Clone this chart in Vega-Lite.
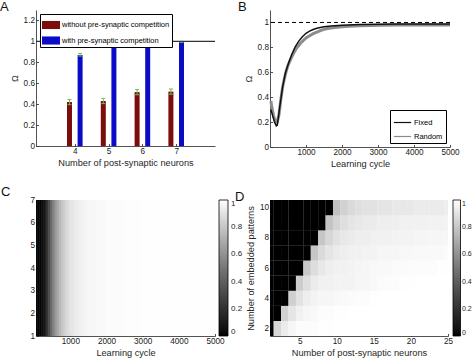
{
  "$schema": "https://vega.github.io/schema/vega-lite/v6.json",
  "padding": {"left": 0, "top": 1, "right": 0, "bottom": 0},
  "background": "white",
  "config": {
    "font": "Liberation Sans",
    "view": {"stroke": null},
    "axis": {"grid": false, "domainColor": "#262626", "tickColor": "#262626", "labelColor": "#1a1a1a", "titleColor": "#262626", "labelFontSize": 8.2, "titleFontSize": 9.2, "titleFontWeight": "normal", "tickSize": -2.5, "labelPadding": 4, "domainWidth": 0.8, "tickWidth": 0.8, "titlePadding": 4, "labelOverlap": false, "labelFlush": false, "labelBound": false, "zindex": 2},
    "title": {"fontSize": 13, "fontWeight": "normal", "anchor": "start", "frame": "group", "color": "#111", "offset": 0, "dy": 8}
  },
  "columns": 2,
  "bounds": "flush",
  "spacing": {"row": 53, "column": 55},
  "datasets": {
    "bars": [
      {"n": 4, "s": "without pre-synaptic competition", "v": 0.42, "lo": 0.395, "hi": 0.445},
      {"n": 5, "s": "without pre-synaptic competition", "v": 0.43, "lo": 0.405, "hi": 0.455},
      {"n": 6, "s": "without pre-synaptic competition", "v": 0.515, "lo": 0.49, "hi": 0.54},
      {"n": 7, "s": "without pre-synaptic competition", "v": 0.52, "lo": 0.495, "hi": 0.545},
      {"n": 4, "s": "with pre-synaptic competition", "v": 0.87, "lo": 0.86, "hi": 0.885},
      {"n": 5, "s": "with pre-synaptic competition", "v": 0.955, "lo": 0.945, "hi": 0.965},
      {"n": 6, "s": "with pre-synaptic competition", "v": 0.972, "lo": 0.963, "hi": 0.981},
      {"n": 7, "s": "with pre-synaptic competition", "v": 0.995, "lo": 0.99, "hi": 1.0}
    ],
    "curves": [
      {"s": "Fixed", "c": 25, "v": 0.3},
      {"s": "Fixed", "c": 75, "v": 0.25},
      {"s": "Fixed", "c": 125, "v": 0.2},
      {"s": "Fixed", "c": 175, "v": 0.17},
      {"s": "Fixed", "c": 200, "v": 0.175},
      {"s": "Fixed", "c": 225, "v": 0.22},
      {"s": "Fixed", "c": 275, "v": 0.33},
      {"s": "Fixed", "c": 350, "v": 0.48},
      {"s": "Fixed", "c": 425, "v": 0.59},
      {"s": "Fixed", "c": 500, "v": 0.66},
      {"s": "Fixed", "c": 600, "v": 0.74},
      {"s": "Fixed", "c": 700, "v": 0.805},
      {"s": "Fixed", "c": 800, "v": 0.85},
      {"s": "Fixed", "c": 900, "v": 0.885},
      {"s": "Fixed", "c": 1000, "v": 0.913},
      {"s": "Fixed", "c": 1100, "v": 0.93},
      {"s": "Fixed", "c": 1200, "v": 0.943},
      {"s": "Fixed", "c": 1300, "v": 0.953},
      {"s": "Fixed", "c": 1500, "v": 0.965},
      {"s": "Fixed", "c": 1700, "v": 0.972},
      {"s": "Fixed", "c": 2000, "v": 0.978},
      {"s": "Fixed", "c": 2500, "v": 0.983},
      {"s": "Fixed", "c": 3000, "v": 0.986},
      {"s": "Fixed", "c": 3500, "v": 0.987},
      {"s": "Fixed", "c": 4000, "v": 0.988},
      {"s": "Fixed", "c": 5000, "v": 0.988},
      {"s": "Random", "c": 25, "v": 0.37},
      {"s": "Random", "c": 50, "v": 0.32},
      {"s": "Random", "c": 100, "v": 0.25},
      {"s": "Random", "c": 150, "v": 0.205},
      {"s": "Random", "c": 200, "v": 0.2},
      {"s": "Random", "c": 250, "v": 0.26},
      {"s": "Random", "c": 300, "v": 0.38},
      {"s": "Random", "c": 350, "v": 0.48},
      {"s": "Random", "c": 400, "v": 0.55},
      {"s": "Random", "c": 450, "v": 0.61},
      {"s": "Random", "c": 500, "v": 0.655},
      {"s": "Random", "c": 550, "v": 0.69},
      {"s": "Random", "c": 600, "v": 0.72},
      {"s": "Random", "c": 650, "v": 0.75},
      {"s": "Random", "c": 700, "v": 0.775},
      {"s": "Random", "c": 750, "v": 0.8},
      {"s": "Random", "c": 800, "v": 0.815},
      {"s": "Random", "c": 850, "v": 0.835},
      {"s": "Random", "c": 900, "v": 0.848},
      {"s": "Random", "c": 1000, "v": 0.875},
      {"s": "Random", "c": 1100, "v": 0.893},
      {"s": "Random", "c": 1200, "v": 0.91},
      {"s": "Random", "c": 1300, "v": 0.923},
      {"s": "Random", "c": 1400, "v": 0.935},
      {"s": "Random", "c": 1500, "v": 0.944},
      {"s": "Random", "c": 1600, "v": 0.952},
      {"s": "Random", "c": 1800, "v": 0.96},
      {"s": "Random", "c": 2000, "v": 0.966},
      {"s": "Random", "c": 2200, "v": 0.97},
      {"s": "Random", "c": 2500, "v": 0.974},
      {"s": "Random", "c": 2800, "v": 0.976},
      {"s": "Random", "c": 3100, "v": 0.977},
      {"s": "Random", "c": 3500, "v": 0.979},
      {"s": "Random", "c": 4000, "v": 0.98},
      {"s": "Random", "c": 5000, "v": 0.98}
    ],
    "heatC": [
      {"c0": 50, "c1": 100, "v": 0.02},
      {"c0": 100, "c1": 150, "v": 0.02},
      {"c0": 150, "c1": 200, "v": 0.02},
      {"c0": 200, "c1": 250, "v": 0.03},
      {"c0": 250, "c1": 300, "v": 0.05},
      {"c0": 300, "c1": 350, "v": 0.12},
      {"c0": 350, "c1": 400, "v": 0.22},
      {"c0": 400, "c1": 450, "v": 0.33},
      {"c0": 450, "c1": 500, "v": 0.43},
      {"c0": 500, "c1": 550, "v": 0.52},
      {"c0": 550, "c1": 600, "v": 0.59},
      {"c0": 600, "c1": 650, "v": 0.65},
      {"c0": 650, "c1": 700, "v": 0.7},
      {"c0": 700, "c1": 750, "v": 0.75},
      {"c0": 750, "c1": 800, "v": 0.79},
      {"c0": 800, "c1": 850, "v": 0.82},
      {"c0": 850, "c1": 900, "v": 0.85},
      {"c0": 900, "c1": 950, "v": 0.87},
      {"c0": 950, "c1": 1000, "v": 0.89},
      {"c0": 1000, "c1": 1100, "v": 0.91},
      {"c0": 1100, "c1": 1200, "v": 0.93},
      {"c0": 1200, "c1": 1300, "v": 0.945},
      {"c0": 1300, "c1": 1400, "v": 0.955},
      {"c0": 1400, "c1": 1500, "v": 0.965},
      {"c0": 1500, "c1": 1700, "v": 0.972},
      {"c0": 1700, "c1": 2000, "v": 0.98},
      {"c0": 2000, "c1": 2500, "v": 0.987},
      {"c0": 2500, "c1": 3000, "v": 0.992},
      {"c0": 3000, "c1": 4000, "v": 0.995},
      {"c0": 4000, "c1": 5000, "v": 0.997}
    ],
    "heatD": [
      {"x":1,"y":2,"v":0},{"x":2,"y":2,"v":0.86},{"x":3,"y":2,"v":0.93},{"x":4,"y":2,"v":0.97},{"x":5,"y":2,"v":0.99},{"x":6,"y":2,"v":0.99},{"x":7,"y":2,"v":0.99},{"x":8,"y":2,"v":0.995},{"x":9,"y":2,"v":0.995},{"x":10,"y":2,"v":1},{"x":11,"y":2,"v":1},{"x":12,"y":2,"v":1},{"x":13,"y":2,"v":1},{"x":14,"y":2,"v":1},{"x":15,"y":2,"v":1},{"x":16,"y":2,"v":1},{"x":17,"y":2,"v":1},{"x":18,"y":2,"v":1},{"x":19,"y":2,"v":1},{"x":20,"y":2,"v":1},{"x":21,"y":2,"v":1},{"x":22,"y":2,"v":1},{"x":23,"y":2,"v":1},{"x":24,"y":2,"v":1},{"x":25,"y":2,"v":1},
      {"x":1,"y":3,"v":0},{"x":2,"y":3,"v":0},{"x":3,"y":3,"v":0.84},{"x":4,"y":3,"v":0.91},{"x":5,"y":3,"v":0.95},{"x":6,"y":3,"v":0.97},{"x":7,"y":3,"v":0.98},{"x":8,"y":3,"v":0.99},{"x":9,"y":3,"v":0.99},{"x":10,"y":3,"v":0.995},{"x":11,"y":3,"v":0.995},{"x":12,"y":3,"v":1},{"x":13,"y":3,"v":1},{"x":14,"y":3,"v":1},{"x":15,"y":3,"v":1},{"x":16,"y":3,"v":1},{"x":17,"y":3,"v":1},{"x":18,"y":3,"v":1},{"x":19,"y":3,"v":1},{"x":20,"y":3,"v":1},{"x":21,"y":3,"v":1},{"x":22,"y":3,"v":1},{"x":23,"y":3,"v":1},{"x":24,"y":3,"v":1},{"x":25,"y":3,"v":1},
      {"x":1,"y":4,"v":0},{"x":2,"y":4,"v":0},{"x":3,"y":4,"v":0},{"x":4,"y":4,"v":0.83},{"x":5,"y":4,"v":0.9},{"x":6,"y":4,"v":0.94},{"x":7,"y":4,"v":0.96},{"x":8,"y":4,"v":0.97},{"x":9,"y":4,"v":0.97},{"x":10,"y":4,"v":0.975},{"x":11,"y":4,"v":0.98},{"x":12,"y":4,"v":0.985},{"x":13,"y":4,"v":0.99},{"x":14,"y":4,"v":0.99},{"x":15,"y":4,"v":0.995},{"x":16,"y":4,"v":1},{"x":17,"y":4,"v":1},{"x":18,"y":4,"v":1},{"x":19,"y":4,"v":1},{"x":20,"y":4,"v":1},{"x":21,"y":4,"v":1},{"x":22,"y":4,"v":1},{"x":23,"y":4,"v":1},{"x":24,"y":4,"v":1},{"x":25,"y":4,"v":1},
      {"x":1,"y":5,"v":0},{"x":2,"y":5,"v":0},{"x":3,"y":5,"v":0},{"x":4,"y":5,"v":0},{"x":5,"y":5,"v":0.82},{"x":6,"y":5,"v":0.89},{"x":7,"y":5,"v":0.93},{"x":8,"y":5,"v":0.95},{"x":9,"y":5,"v":0.95},{"x":10,"y":5,"v":0.96},{"x":11,"y":5,"v":0.96},{"x":12,"y":5,"v":0.96},{"x":13,"y":5,"v":0.97},{"x":14,"y":5,"v":0.97},{"x":15,"y":5,"v":0.975},{"x":16,"y":5,"v":0.985},{"x":17,"y":5,"v":0.99},{"x":18,"y":5,"v":0.99},{"x":19,"y":5,"v":0.995},{"x":20,"y":5,"v":0.995},{"x":21,"y":5,"v":1},{"x":22,"y":5,"v":1},{"x":23,"y":5,"v":1},{"x":24,"y":5,"v":1},{"x":25,"y":5,"v":1},
      {"x":1,"y":6,"v":0},{"x":2,"y":6,"v":0},{"x":3,"y":6,"v":0},{"x":4,"y":6,"v":0},{"x":5,"y":6,"v":0},{"x":6,"y":6,"v":0.81},{"x":7,"y":6,"v":0.88},{"x":8,"y":6,"v":0.92},{"x":9,"y":6,"v":0.94},{"x":10,"y":6,"v":0.95},{"x":11,"y":6,"v":0.95},{"x":12,"y":6,"v":0.96},{"x":13,"y":6,"v":0.965},{"x":14,"y":6,"v":0.97},{"x":15,"y":6,"v":0.975},{"x":16,"y":6,"v":0.98},{"x":17,"y":6,"v":0.98},{"x":18,"y":6,"v":0.985},{"x":19,"y":6,"v":0.985},{"x":20,"y":6,"v":0.99},{"x":21,"y":6,"v":0.99},{"x":22,"y":6,"v":0.99},{"x":23,"y":6,"v":0.99},{"x":24,"y":6,"v":0.995},{"x":25,"y":6,"v":0.995},
      {"x":1,"y":7,"v":0},{"x":2,"y":7,"v":0},{"x":3,"y":7,"v":0},{"x":4,"y":7,"v":0},{"x":5,"y":7,"v":0},{"x":6,"y":7,"v":0},{"x":7,"y":7,"v":0.8},{"x":8,"y":7,"v":0.87},{"x":9,"y":7,"v":0.91},{"x":10,"y":7,"v":0.93},{"x":11,"y":7,"v":0.94},{"x":12,"y":7,"v":0.95},{"x":13,"y":7,"v":0.95},{"x":14,"y":7,"v":0.96},{"x":15,"y":7,"v":0.96},{"x":16,"y":7,"v":0.97},{"x":17,"y":7,"v":0.97},{"x":18,"y":7,"v":0.97},{"x":19,"y":7,"v":0.975},{"x":20,"y":7,"v":0.975},{"x":21,"y":7,"v":0.98},{"x":22,"y":7,"v":0.98},{"x":23,"y":7,"v":0.98},{"x":24,"y":7,"v":0.98},{"x":25,"y":7,"v":0.985},
      {"x":1,"y":8,"v":0},{"x":2,"y":8,"v":0},{"x":3,"y":8,"v":0},{"x":4,"y":8,"v":0},{"x":5,"y":8,"v":0},{"x":6,"y":8,"v":0},{"x":7,"y":8,"v":0},{"x":8,"y":8,"v":0.8},{"x":9,"y":8,"v":0.86},{"x":10,"y":8,"v":0.9},{"x":11,"y":8,"v":0.92},{"x":12,"y":8,"v":0.93},{"x":13,"y":8,"v":0.94},{"x":14,"y":8,"v":0.94},{"x":15,"y":8,"v":0.95},{"x":16,"y":8,"v":0.95},{"x":17,"y":8,"v":0.95},{"x":18,"y":8,"v":0.96},{"x":19,"y":8,"v":0.96},{"x":20,"y":8,"v":0.96},{"x":21,"y":8,"v":0.965},{"x":22,"y":8,"v":0.965},{"x":23,"y":8,"v":0.97},{"x":24,"y":8,"v":0.97},{"x":25,"y":8,"v":0.97},
      {"x":1,"y":9,"v":0},{"x":2,"y":9,"v":0},{"x":3,"y":9,"v":0},{"x":4,"y":9,"v":0},{"x":5,"y":9,"v":0},{"x":6,"y":9,"v":0},{"x":7,"y":9,"v":0},{"x":8,"y":9,"v":0},{"x":9,"y":9,"v":0.79},{"x":10,"y":9,"v":0.85},{"x":11,"y":9,"v":0.89},{"x":12,"y":9,"v":0.91},{"x":13,"y":9,"v":0.92},{"x":14,"y":9,"v":0.93},{"x":15,"y":9,"v":0.93},{"x":16,"y":9,"v":0.94},{"x":17,"y":9,"v":0.94},{"x":18,"y":9,"v":0.94},{"x":19,"y":9,"v":0.95},{"x":20,"y":9,"v":0.95},{"x":21,"y":9,"v":0.95},{"x":22,"y":9,"v":0.95},{"x":23,"y":9,"v":0.955},{"x":24,"y":9,"v":0.955},{"x":25,"y":9,"v":0.96},
      {"x":1,"y":10,"v":0},{"x":2,"y":10,"v":0},{"x":3,"y":10,"v":0},{"x":4,"y":10,"v":0},{"x":5,"y":10,"v":0},{"x":6,"y":10,"v":0},{"x":7,"y":10,"v":0},{"x":8,"y":10,"v":0},{"x":9,"y":10,"v":0},{"x":10,"y":10,"v":0.78},{"x":11,"y":10,"v":0.84},{"x":12,"y":10,"v":0.87},{"x":13,"y":10,"v":0.89},{"x":14,"y":10,"v":0.9},{"x":15,"y":10,"v":0.9},{"x":16,"y":10,"v":0.91},{"x":17,"y":10,"v":0.91},{"x":18,"y":10,"v":0.92},{"x":19,"y":10,"v":0.92},{"x":20,"y":10,"v":0.92},{"x":21,"y":10,"v":0.93},{"x":22,"y":10,"v":0.93},{"x":23,"y":10,"v":0.93},{"x":24,"y":10,"v":0.93},{"x":25,"y":10,"v":0.94}
    ]
  },
  "concat": [
    {
      "width": 179, "height": 136,
      "title": {"text": "A", "dx": -36},
      "layer": [
        {
          "data": {"name": "bars"},
          "transform": [{"filter": "datum.s == 'without pre-synaptic competition'"}],
          "mark": {"type": "bar", "width": 5, "xOffset": -5.3},
          "encoding": {
            "x": {"field": "n", "type": "quantitative", "title": "Number of post-synaptic neurons", "scale": {"domain": [3, 8], "nice": false, "zero": false}, "axis": {"values": [4, 5, 6, 7]}},
            "y": {"field": "v", "type": "quantitative", "title": "Ω", "scale": {"domain": [0, 1.3], "nice": false}, "axis": {"tickCount": 7, "format": "~g"}},
            "color": {"field": "s", "type": "nominal", "scale": {"domain": ["without pre-synaptic competition", "with pre-synaptic competition"], "range": ["#7d0c0c", "#0c0cc8"]},
              "legend": {"title": null, "orient": "top-left", "offset": 3.5, "symbolType": "M-1,-0.45H1V0.45H-1Z", "symbolSize": 324, "symbolStrokeWidth": 0, "labelFontSize": 7.5, "labelColor": "black", "strokeColor": "black", "fillColor": "white", "padding": 2, "rowPadding": 1.5, "labelOffset": 2}}
          }
        },
        {
          "data": {"name": "bars"},
          "transform": [{"filter": "datum.s == 'with pre-synaptic competition'"}],
          "mark": {"type": "bar", "width": 5, "xOffset": 5.3},
          "encoding": {
            "x": {"field": "n", "type": "quantitative", "title": "Number of post-synaptic neurons"},
            "y": {"field": "v", "type": "quantitative", "title": "Ω"},
            "color": {"field": "s", "type": "nominal"}
          }
        },
        {
          "data": {"name": "bars"},
          "transform": [{"filter": "datum.s == 'without pre-synaptic competition'"}],
          "mark": {"type": "rule", "color": "#6cc04a", "xOffset": -5.3, "strokeWidth": 1},
          "encoding": {
            "x": {"field": "n", "type": "quantitative", "title": "Number of post-synaptic neurons"},
            "y": {"field": "lo", "type": "quantitative", "title": "Ω"},
            "y2": {"field": "hi"}
          }
        },
        {
          "data": {"name": "bars"},
          "transform": [{"filter": "datum.s == 'with pre-synaptic competition'"}],
          "mark": {"type": "rule", "color": "#6cc04a", "xOffset": 5.3, "strokeWidth": 1},
          "encoding": {
            "x": {"field": "n", "type": "quantitative", "title": "Number of post-synaptic neurons"},
            "y": {"field": "lo", "type": "quantitative", "title": "Ω"},
            "y2": {"field": "hi"}
          }
        },
        {
          "data": {"name": "bars"},
          "transform": [{"filter": "datum.s == 'without pre-synaptic competition'"}, {"fold": ["lo", "hi"], "as": ["k", "e"]}],
          "mark": {"type": "point", "shape": "M-1,0L1,0", "size": 16, "color": "#6cc04a", "filled": false, "strokeWidth": 1, "opacity": 1, "xOffset": -5.3},
          "encoding": {
            "x": {"field": "n", "type": "quantitative", "title": "Number of post-synaptic neurons"},
            "y": {"field": "e", "type": "quantitative", "title": "Ω"}
          }
        },
        {
          "data": {"name": "bars"},
          "transform": [{"filter": "datum.s == 'with pre-synaptic competition'"}, {"fold": ["lo", "hi"], "as": ["k", "e"]}],
          "mark": {"type": "point", "shape": "M-1,0L1,0", "size": 16, "color": "#6cc04a", "filled": false, "strokeWidth": 1, "opacity": 1, "xOffset": 5.3},
          "encoding": {
            "x": {"field": "n", "type": "quantitative", "title": "Number of post-synaptic neurons"},
            "y": {"field": "e", "type": "quantitative", "title": "Ω"}
          }
        },
        {
          "data": {"values": [{"r": 1}]},
          "mark": {"type": "rule", "color": "#333333", "strokeWidth": 1.2},
          "encoding": {"y": {"field": "r", "type": "quantitative", "title": "Ω"}}
        }
      ]
    },
    {
      "width": 180, "height": 137,
      "title": {"text": "B", "dx": -32},
      "layer": [
        {
          "data": {"name": "curves"},
          "transform": [{"filter": "datum.s == 'Random'"}],
          "mark": {"type": "line", "strokeWidth": 3},
          "encoding": {
            "x": {"field": "c", "type": "quantitative", "title": "Learning cycle", "scale": {"domain": [0, 5000], "nice": false}, "axis": {"values": [1000, 2000, 3000, 4000, 5000], "format": "d"}},
            "y": {"field": "v", "type": "quantitative", "title": "Ω", "scale": {"domain": [0, 1.1], "nice": false}, "axis": {"tickCount": 6, "format": "~g"}},
            "color": {"field": "s", "type": "nominal", "scale": {"domain": ["Fixed", "Random"], "range": ["#111111", "#8c8c8c"]},
              "legend": {"title": null, "orient": "bottom-right", "offset": 4.5, "symbolType": "stroke", "symbolSize": 300, "symbolStrokeWidth": 1.2, "labelFontSize": 7.5, "labelColor": "black", "strokeColor": "black", "fillColor": "white", "padding": 3, "rowPadding": 1, "labelOffset": 2}}
          }
        },
        {
          "data": {"name": "curves"},
          "transform": [{"filter": "datum.s == 'Fixed'"}],
          "mark": {"type": "line", "strokeWidth": 1.5},
          "encoding": {
            "x": {"field": "c", "type": "quantitative", "title": "Learning cycle"},
            "y": {"field": "v", "type": "quantitative", "title": "Ω"},
            "color": {"field": "s", "type": "nominal"}
          }
        },
        {
          "data": {"values": [{"r": 1}]},
          "mark": {"type": "rule", "color": "black", "strokeWidth": 1, "strokeDash": [4, 3]},
          "encoding": {"y": {"field": "r", "type": "quantitative", "title": "Ω"}}
        }
      ]
    },
    {
      "width": 179, "height": 136,
      "title": {"text": "C", "dx": -35},
      "data": {"name": "heatC"},
      "mark": {"type": "rect", "clip": true, "strokeWidth": 0.6},
      "encoding": {
        "x": {"field": "c0", "type": "quantitative", "title": "Learning cycle", "scale": {"domain": [50, 5000], "nice": false, "zero": false}, "axis": {"values": [1000, 2000, 3000, 4000, 5000], "format": "d"}},
        "x2": {"field": "c1"},
        "y": {"datum": 1, "type": "quantitative", "title": "Post-synaptic neurons", "scale": {"domain": [1, 7], "nice": false, "zero": false}, "axis": {"values": [1, 2, 3, 4, 5, 6, 7]}},
        "y2": {"datum": 7},
        "color": {"field": "v", "type": "quantitative", "scale": {"domain": [0, 1], "range": ["black", "white"]},
          "legend": {"title": null, "orient": "right", "offset": 4, "gradientLength": 136, "gradientThickness": 9, "values": [0, 0.2, 0.4, 0.6, 0.8, 1], "format": "~g", "labelFontSize": 8, "labelOverlap": false, "labelColor": "#262626", "gradientStrokeColor": "black", "gradientStrokeWidth": 0.8, "labelOffset": 3}},
        "stroke": {"field": "v", "type": "quantitative", "scale": {"domain": [0, 1], "range": ["black", "white"]}, "legend": null}
      }
    },
    {
      "width": 178, "height": 136,
      "title": {"text": "D", "dx": -35},
      "data": {"name": "heatD"},
      "mark": {"type": "rect", "clip": true, "width": 7.6, "height": 15.3},
      "encoding": {
        "x": {"field": "x", "type": "quantitative", "title": "Number of post-synaptic neurons", "scale": {"domain": [1, 25], "nice": false, "zero": false}, "axis": {"values": [5, 10, 15, 20, 25]}},
        "y": {"field": "y", "type": "quantitative", "title": "Number of embedded patterns", "scale": {"domain": [1.5, 10.5], "nice": false, "zero": false}, "axis": {"values": [2, 4, 6, 8, 10]}},
        "color": {"field": "v", "type": "quantitative", "scale": {"domain": [0, 1], "range": ["black", "white"]},
          "legend": {"title": null, "orient": "right", "offset": 5, "gradientLength": 136, "gradientThickness": 7.5, "values": [0, 0.2, 0.4, 0.6, 0.8, 1], "format": "~g", "labelFontSize": 7, "labelOverlap": false, "labelColor": "#262626", "gradientStrokeColor": "black", "gradientStrokeWidth": 0.8, "labelOffset": 1.5}}
      }
    }
  ]
}
